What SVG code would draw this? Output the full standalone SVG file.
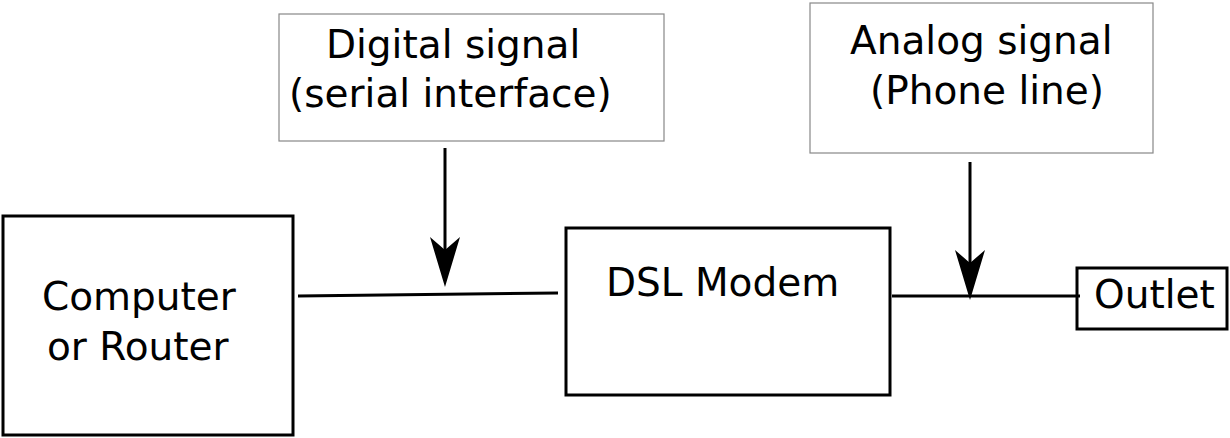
<svg xmlns="http://www.w3.org/2000/svg" width="1230" height="438" viewBox="0 0 1230 438">
<style>
.n{fill:#fff;stroke:#000;stroke-width:3}
.l{fill:#fff;stroke:#888;stroke-width:1.2}
text{font-family:"DejaVu Sans",sans-serif;font-size:39px;fill:#000}
.c{stroke:#000;stroke-width:3;fill:none}
.h{fill:#000}
</style>
<g id="computer"><rect class="n" x="3" y="216" width="290" height="219"/><text x="42" y="310">Computer</text><text x="47" y="360">or Router</text></g>
<g id="modem"><rect class="n" x="566" y="228" width="324" height="167"/><text x="606" y="296">DSL Modem</text></g>
<g id="outlet"><rect class="n" x="1077" y="268" width="150" height="61"/><text x="1094" y="308">Outlet</text></g>
<g id="digital"><rect class="l" x="279" y="14" width="385" height="127"/><text x="326" y="58">Digital signal</text><text x="289" y="107">(serial interface)</text></g>
<g id="analog"><rect class="l" x="810" y="3" width="343" height="150"/><text x="850" y="54">Analog signal</text><text x="870" y="104">(Phone line)</text></g>
<g id="connectors">
<path class="c" d="M298 296 L558 293"/>
<path class="c" d="M892 296 L1080 296"/>
<path class="c" d="M445 148 L445 250"/>
<path class="c" d="M970 162 L970 263"/>
<path class="h" d="M430 237 L445 250 L460 237 L445 287Z"/>
<path class="h" d="M955 250 L970 263 L985 250 L970 300Z"/>
</g>
</svg>
